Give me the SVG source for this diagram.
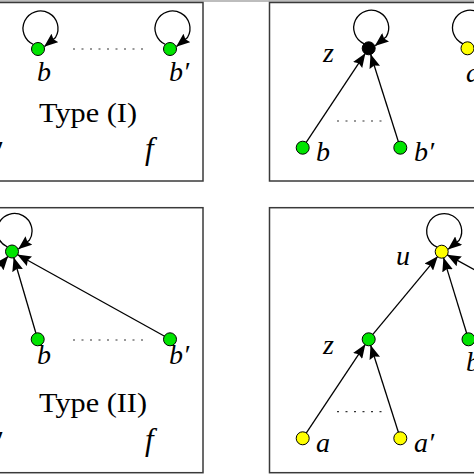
<svg xmlns="http://www.w3.org/2000/svg" width="474" height="474" viewBox="0 0 474 474">
<style>
.frame{fill:#fff;stroke:#3a3a3a;stroke-width:1.5}
.edge{fill:none;stroke:#000;stroke-width:1.3;marker-end:url(#ah)}
.loop{fill:none;stroke:#000;stroke-width:1.3;marker-end:url(#ah)}
.dots{fill:none;stroke:#333;stroke-width:1.2;stroke-dasharray:2 6.5}
.g{fill:#00e400;stroke:#000;stroke-width:1}
.y{fill:#ffff00;stroke:#000;stroke-width:1}
.k{fill:#000;stroke:#000;stroke-width:1}
.m{font-family:"Liberation Serif",serif;font-style:italic;font-size:28px;fill:#000}
.t{font-family:"Liberation Serif",serif;font-size:28px;fill:#000}
</style>
<defs>
<marker id="ah" markerUnits="userSpaceOnUse" viewBox="0 0 14 11" markerWidth="14" markerHeight="11" refX="13.5" refY="5.5" orient="auto">
<path d="M0,0 L14,5.5 L0,11 L2,5.5 z" fill="#000"/>
</marker>
</defs>
<rect x="0" y="0" width="474" height="474" fill="#fff"/>
<rect x="0" y="0" width="474" height="2" fill="#bdbdbd"/>
<g id="frames">
<rect class="frame" x="-10" y="2.5" width="213" height="178.5"/>
<rect class="frame" x="269.5" y="2.5" width="220" height="178.5"/>
<rect class="frame" x="-10" y="207.7" width="213" height="265"/>
<rect class="frame" x="269.5" y="207.7" width="220" height="265"/>
</g>
<g id="connectors">
<path class="loop" transform="translate(38,49)" d="M-4.5,-4.5 A17.5,17.5 0 1 1 17.5,-11.5 L6.5,-2.5"/>
<path class="loop" transform="translate(170,49)" d="M-4.5,-4.5 A17.5,17.5 0 1 1 17.5,-11.5 L6.5,-2.5"/>
<path class="loop" transform="translate(368.7,48.3)" d="M-4.5,-4.5 A17.5,17.5 0 1 1 17.5,-11.5 L6.5,-2.5"/>
<path class="loop" transform="translate(467.5,48.3)" d="M-4.5,-4.5 A17.5,17.5 0 1 1 17.5,-11.5 L6.5,-2.5"/>
<path class="loop" transform="translate(12,251.5)" d="M-4.5,-4.5 A17.5,17.5 0 1 1 17.5,-11.5 L6.5,-2.5"/>
<path class="loop" transform="translate(441.7,251.7)" d="M-4.5,-4.5 A17.5,17.5 0 1 1 17.5,-11.5 L6.5,-2.5"/>
<path class="edge" d="M302.7,147.7 L365.1,53.7"/>
<path class="edge" d="M400.3,147.7 L370.7,54.5"/>
<path class="edge" d="M37.7,339.3 L13.8,257.7"/>
<path class="edge" d="M170,339.3 L17.7,254.7"/>
<path class="edge" d="M-61,339.3 L7.85,256.5"/>
<path class="edge" d="M368.7,339.3 L437.5,256.7"/>
<path class="edge" d="M468.5,339.3 L443.6,257.9"/>
<path class="edge" d="M600,339.3 L447.4,254.9"/>
<path class="edge" d="M302.7,438.3 L365.1,344.7"/>
<path class="edge" d="M400.3,438.3 L370.7,345.5"/>
<path class="dots" d="M73,49 H144"/>
<path class="dots" d="M337,121 H383"/>
<path class="dots" d="M73,340 H144"/>
<path class="dots" d="M337,411.7 H384"/>
</g>
<g id="panel-I">
<g id="n-b1"><circle class="g" cx="38" cy="49" r="6.5"/><text class="m" x="37" y="81">b</text></g>
<g id="n-b1p"><circle class="g" cx="170" cy="49" r="6.5"/><text class="m" x="169" y="81">b′</text></g>
<text class="t" x="39" y="122" textLength="98" lengthAdjust="spacingAndGlyphs">Type (I)</text>
<text class="m" x="145" y="159" style="font-size:31px">f</text>
<text class="m" x="-4" y="160">′</text>
</g>
<g id="panel-TR">
<g id="n-z1"><circle class="k" cx="368.7" cy="48.3" r="6.5"/><text class="m" x="323" y="62">z</text></g>
<g id="n-b2"><circle class="g" cx="302.7" cy="147.7" r="6.5"/><text class="m" x="316" y="161">b</text></g>
<g id="n-b2p"><circle class="g" cx="400.3" cy="147.7" r="6.5"/><text class="m" x="414" y="161">b′</text></g>
<g id="n-a0"><circle class="y" cx="467.5" cy="48.3" r="6.5"/><text class="m" x="466" y="82">a</text></g>
</g>
<g id="panel-II">
<g id="n-h"><circle class="g" cx="12" cy="251.5" r="6.5"/></g>
<g id="n-b3"><circle class="g" cx="37.7" cy="339.3" r="6.5"/><text class="m" x="37" y="364">b</text></g>
<g id="n-b3p"><circle class="g" cx="170" cy="339.3" r="6.5"/><text class="m" x="169" y="364">b′</text></g>
<text class="t" x="39" y="412" textLength="108" lengthAdjust="spacingAndGlyphs">Type (II)</text>
<text class="m" x="145" y="450" style="font-size:31px">f</text>
<text class="m" x="-4" y="450">′</text>
</g>
<g id="panel-BR">
<g id="n-u"><circle class="y" cx="441.7" cy="251.7" r="6.5"/><text class="m" x="396" y="265">u</text></g>
<g id="n-z2"><circle class="g" cx="368.7" cy="339.3" r="6.5"/><text class="m" x="323" y="354">z</text></g>
<g id="n-b4"><circle class="g" cx="468.5" cy="339.3" r="6.5"/><text class="m" x="466" y="371">b</text></g>
<g id="n-a"><circle class="y" cx="302.7" cy="438.3" r="6.5"/><text class="m" x="316" y="452">a</text></g>
<g id="n-ap"><circle class="y" cx="400.3" cy="438.3" r="6.5"/><text class="m" x="414" y="452">a′</text></g>
</g>
</svg>
